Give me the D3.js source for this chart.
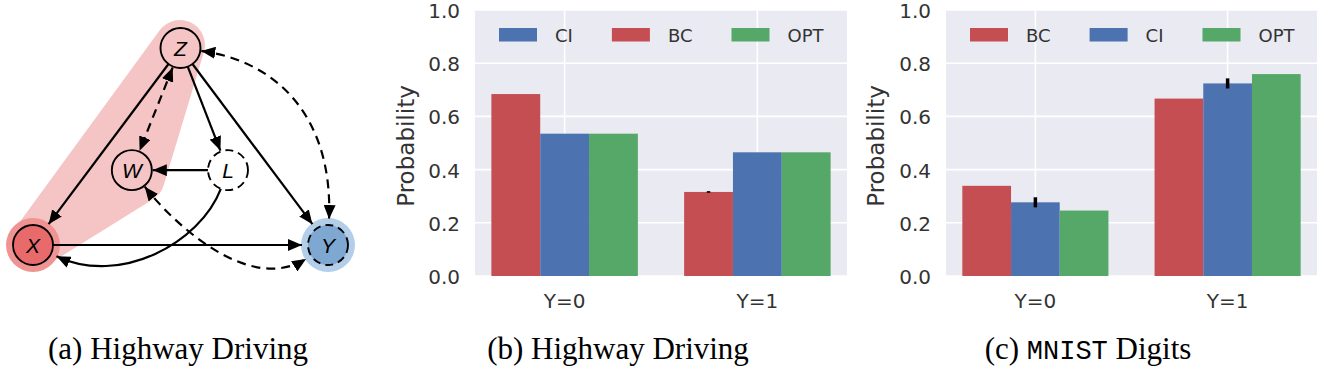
<!DOCTYPE html>
<html>
<head>
<meta charset="utf-8">
<script src="https://cdn.jsdelivr.net/npm/d3@7"></script>
<style>
body { margin: 0; background: #fff; }
text { fill: #333; }
</style>
</head>
<body>
<div id="fig"></div>
<script>
// values
const categories = ['Y=0', 'Y=1'];
const yTicks = [0, 0.2, 0.4, 0.6, 0.8, 1.0];

const highwayBC = [0.684, 0.316];
const highwayCI = [0.535, 0.465];
const highwayOPT = [0.535, 0.465];
const highwayBCErr = [0, 0.003];
const highwayLegend = ['CI', 'BC', 'OPT'];

const mnistBC = [0.339, 0.667];
const mnistCI = [0.277, 0.724];
const mnistOPT = [0.246, 0.759];
const mnistCIErr = [0.019, 0.019];
const mnistLegend = ['BC', 'CI', 'OPT'];

const captions = ['(a) Highway Driving', '(b) Highway Driving', '(c) MNIST Digits'];

// causal graph (layout units: X at 0,1  Y at 1,1  Z at .5,0)
const graphNodes = [
	{id: 'Z', gx: 0.5, gy: 0, dashed: false, fill: 'none'},
	{id: 'W', gx: 0.335, gy: 0.62, dashed: false, fill: 'none'},
	{id: 'L', gx: 0.661, gy: 0.62, dashed: true, fill: '#fff'},
	{id: 'X', gx: 0, gy: 1, dashed: false, fill: '#E86A6B', halo: '#EF9393'},
	{id: 'Y', gx: 1, gy: 1, dashed: true, fill: '#7EA7D1', halo: '#B2CEE8'}
];
// c1/c2: control points for curved edges
const graphEdges = [
	{from: 'Z', to: 'X', dashed: false, both: false},
	{from: 'Z', to: 'W', dashed: true, both: true},
	{from: 'Z', to: 'L', dashed: false, both: false},
	{from: 'Z', to: 'Y', dashed: false, both: false},
	{from: 'L', to: 'W', dashed: false, both: false},
	{from: 'X', to: 'Y', dashed: false, both: false},
	{from: 'L', to: 'X', dashed: false, both: false, c1: [0.566, 0.99], c2: [0.295, 1.21]},
	{from: 'Z', to: 'Y', dashed: true, both: true, c1: [0.837, 0.07], c2: [1.017, 0.365]},
	{from: 'W', to: 'Y', dashed: true, both: true, c1: [0.481, 0.9], c2: [0.736, 1.25]}
];
const bandNodes = [[0.008, 0.99], [0.498, -0.015], [0.362, 0.66]];

const colors = {BC: '#C44E52', CI: '#4C72B0', OPT: '#55A868'};
const barOrder = ['BC', 'CI', 'OPT'];

var svg = d3.select('#fig')
	.append('svg')
	.attr('width', 1321)
	.attr('height', 366)
	.style('display', 'block');

var y = d3.scaleLinear()
	.domain([0, 1])
	.range([276, 10]);

function drawBars(left, right, values, errors, legendOrder, labelX) {
	var g = svg.append('g');
	var x = d3.scalePoint()
		.domain(categories)
		.range([left, right])
		.padding(0.465);
	var step = x.step();
	var sub = d3.scaleBand()
		.domain(barOrder)
		.range([-0.38 * step, 0.38 * step]);

	g.append('rect')
		.attr('x', left)
		.attr('y', y(1))
		.attr('width', right - left)
		.attr('height', y(0) - y(1))
		.attr('fill', '#EAEAF2');

	g.selectAll('.hgrid')
		.data(yTicks)
		.enter()
		.append('line')
		.attr('x1', left)
		.attr('x2', right)
		.attr('y1', d => y(d))
		.attr('y2', d => y(d))
		.attr('stroke', '#fff')
		.attr('stroke-width', 1.6);

	g.selectAll('.vgrid')
		.data(categories)
		.enter()
		.append('line')
		.attr('x1', d => x(d))
		.attr('x2', d => x(d))
		.attr('y1', y(1))
		.attr('y2', y(0))
		.attr('stroke', '#fff')
		.attr('stroke-width', 1.6);

	var bars = [];
	barOrder.forEach(name => {
		values[name].forEach((v, i) => {
			bars.push({name: name, cat: categories[i], v: v, err: errors[name] ? errors[name][i] : 0});
		});
	});

	g.selectAll('.bar')
		.data(bars)
		.enter()
		.append('rect')
		.attr('x', d => x(d.cat) + sub(d.name))
		.attr('width', sub.bandwidth())
		.attr('y', d => y(d.v))
		.attr('height', d => y(0) - y(d.v))
		.attr('fill', d => colors[d.name]);

	g.selectAll('.err')
		.data(bars.filter(d => d.err > 0))
		.enter()
		.append('line')
		.attr('x1', d => x(d.cat) + sub(d.name) + sub.bandwidth() / 2)
		.attr('x2', d => x(d.cat) + sub(d.name) + sub.bandwidth() / 2)
		.attr('y1', d => y(d.v - d.err))
		.attr('y2', d => y(d.v + d.err))
		.attr('stroke', '#000')
		.attr('stroke-width', 3.5);

	// y ticks
	g.selectAll('.ytick')
		.data(yTicks)
		.enter()
		.append('text')
		.attr('x', left - 15)
		.attr('y', d => y(d))
		.attr('dy', '0.4em')
		.attr('text-anchor', 'end')
		.style('font', '20px "DejaVu Sans"')
		.text(d3.format('.1f'));

	g.selectAll('.xtick')
		.data(categories)
		.enter()
		.append('text')
		.attr('x', d => x(d))
		.attr('y', 308)
		.attr('text-anchor', 'middle')
		.style('font', '20px "DejaVu Sans"')
		.text(d => d);

	g.append('text')
		.attr('transform', `translate(${labelX},146) rotate(-90)`)
		.attr('text-anchor', 'middle')
		.style('font', '23px "DejaVu Sans"')
		.text('Probability');

	// legend, no frame
	var lx = left + 24;
	legendOrder.forEach(name => {
		g.append('rect')
			.attr('x', lx)
			.attr('y', 28)
			.attr('width', 38)
			.attr('height', 13.5)
			.attr('fill', colors[name]);
		var t = g.append('text')
			.attr('x', lx + 38 + 18)
			.attr('y', 41.5)
			.style('font', '18px "DejaVu Sans"')
			.text(name);
		lx = lx + 38 + 18 + t.node().getComputedTextLength() + 39;
	});
}

drawBars(475, 847, {BC: highwayBC, CI: highwayCI, OPT: highwayOPT}, {BC: highwayBCErr}, highwayLegend, 414);
drawBars(946, 1317, {BC: mnistBC, CI: mnistCI, OPT: mnistOPT}, {CI: mnistCIErr}, mnistLegend, 884);

// graph panel
var gx = d3.scaleLinear().domain([0, 1]).range([33, 328]);
var gy = d3.scaleLinear().domain([0, 1]).range([48, 245]);
var nodeR = 20;
var byId = {};
graphNodes.forEach(d => { byId[d.id] = d; });

var graph = svg.append('g');

var defs = svg.append('defs');
defs.append('marker')
	.attr('id', 'arrow')
	.attr('viewBox', '0 0 14 12')
	.attr('refX', 14)
	.attr('refY', 6)
	.attr('markerUnits', 'userSpaceOnUse')
	.attr('markerWidth', 14)
	.attr('markerHeight', 12)
	.attr('orient', 'auto-start-reverse')
	.append('path')
	.attr('d', 'M0,0 L14,6 L0,12 Z')
	.attr('fill', '#000');

graph.append('path')
	.attr('d', d3.line().curve(d3.curveLinearClosed)(bandNodes.map(p => [gx(p[0]), gy(p[1])])))
	.attr('fill', '#F5C4C4')
	.attr('stroke', '#F5C4C4')
	.attr('stroke-width', 50)
	.attr('stroke-linejoin', 'round');

graph.selectAll('.halo')
	.data(graphNodes.filter(d => d.halo))
	.enter()
	.append('circle')
	.attr('cx', d => gx(d.gx))
	.attr('cy', d => gy(d.gy))
	.attr('r', 27)
	.attr('fill', d => d.halo);

function edgeR(n) {
	return n.halo ? 26 : nodeR + 1;
}

function edgePath(e) {
	var a = byId[e.from], b = byId[e.to];
	var ax = gx(a.gx), ay = gy(a.gy), bx = gx(b.gx), by = gy(b.gy);
	if (!e.c1) {
		var dx = bx - ax, dy = by - ay, len = Math.hypot(dx, dy);
		var ra = e.both ? edgeR(a) : nodeR;
		return `M${ax + dx / len * ra},${ay + dy / len * ra} L${bx - dx / len * edgeR(b)},${by - dy / len * edgeR(b)}`;
	}
	var c1 = [gx(e.c1[0]), gy(e.c1[1])], c2 = [gx(e.c2[0]), gy(e.c2[1])];
	var d1x = c1[0] - ax, d1y = c1[1] - ay, l1 = Math.hypot(d1x, d1y);
	var d2x = bx - c2[0], d2y = by - c2[1], l2 = Math.hypot(d2x, d2y);
	var ra2 = e.both ? edgeR(a) : nodeR;
	var s = [ax + d1x / l1 * ra2, ay + d1y / l1 * ra2];
	var t = [bx - d2x / l2 * edgeR(b), by - d2y / l2 * edgeR(b)];
	return `M${s[0]},${s[1]} C${c1[0]},${c1[1]} ${c2[0]},${c2[1]} ${t[0]},${t[1]}`;
}

graph.selectAll('.edge')
	.data(graphEdges)
	.enter()
	.append('path')
	.attr('d', edgePath)
	.attr('fill', 'none')
	.attr('stroke', '#000')
	.attr('stroke-width', 2.2)
	.attr('stroke-dasharray', d => d.dashed ? '9,6' : null)
	.attr('marker-end', 'url(#arrow)')
	.attr('marker-start', d => d.both ? 'url(#arrow)' : null);

graph.selectAll('.node')
	.data(graphNodes)
	.enter()
	.append('circle')
	.attr('cx', d => gx(d.gx))
	.attr('cy', d => gy(d.gy))
	.attr('r', nodeR)
	.attr('fill', d => d.fill)
	.attr('stroke', '#000')
	.attr('stroke-width', 1.9)
	.attr('stroke-dasharray', d => d.dashed ? '8,5' : null);

graph.selectAll('.nlabel')
	.data(graphNodes)
	.enter()
	.append('text')
	.attr('x', d => gx(d.gx))
	.attr('y', d => gy(d.gy))
	.attr('dy', '0.36em')
	.attr('text-anchor', 'middle')
	.style('font', 'italic 21px "Liberation Sans"')
	.style('fill', '#000')
	.text(d => d.id);

// captions
var capX = [178, 618, 1088];
svg.selectAll('.cap')
	.data(captions)
	.enter()
	.append('text')
	.attr('x', (d, i) => capX[i])
	.attr('y', 359)
	.attr('text-anchor', 'middle')
	.style('font', '31px "Liberation Serif"')
	.style('fill', '#000')
	.each(function(d) {
		var parts = d.split('MNIST');
		var el = d3.select(this);
		if (parts.length === 1) {
			el.text(d);
			return;
		}
		el.append('tspan').text(parts[0]);
		el.append('tspan').style('font', '27px "Liberation Mono"').text('MNIST');
		el.append('tspan').text(parts[1]);
	});
</script>
</body>
</html>
